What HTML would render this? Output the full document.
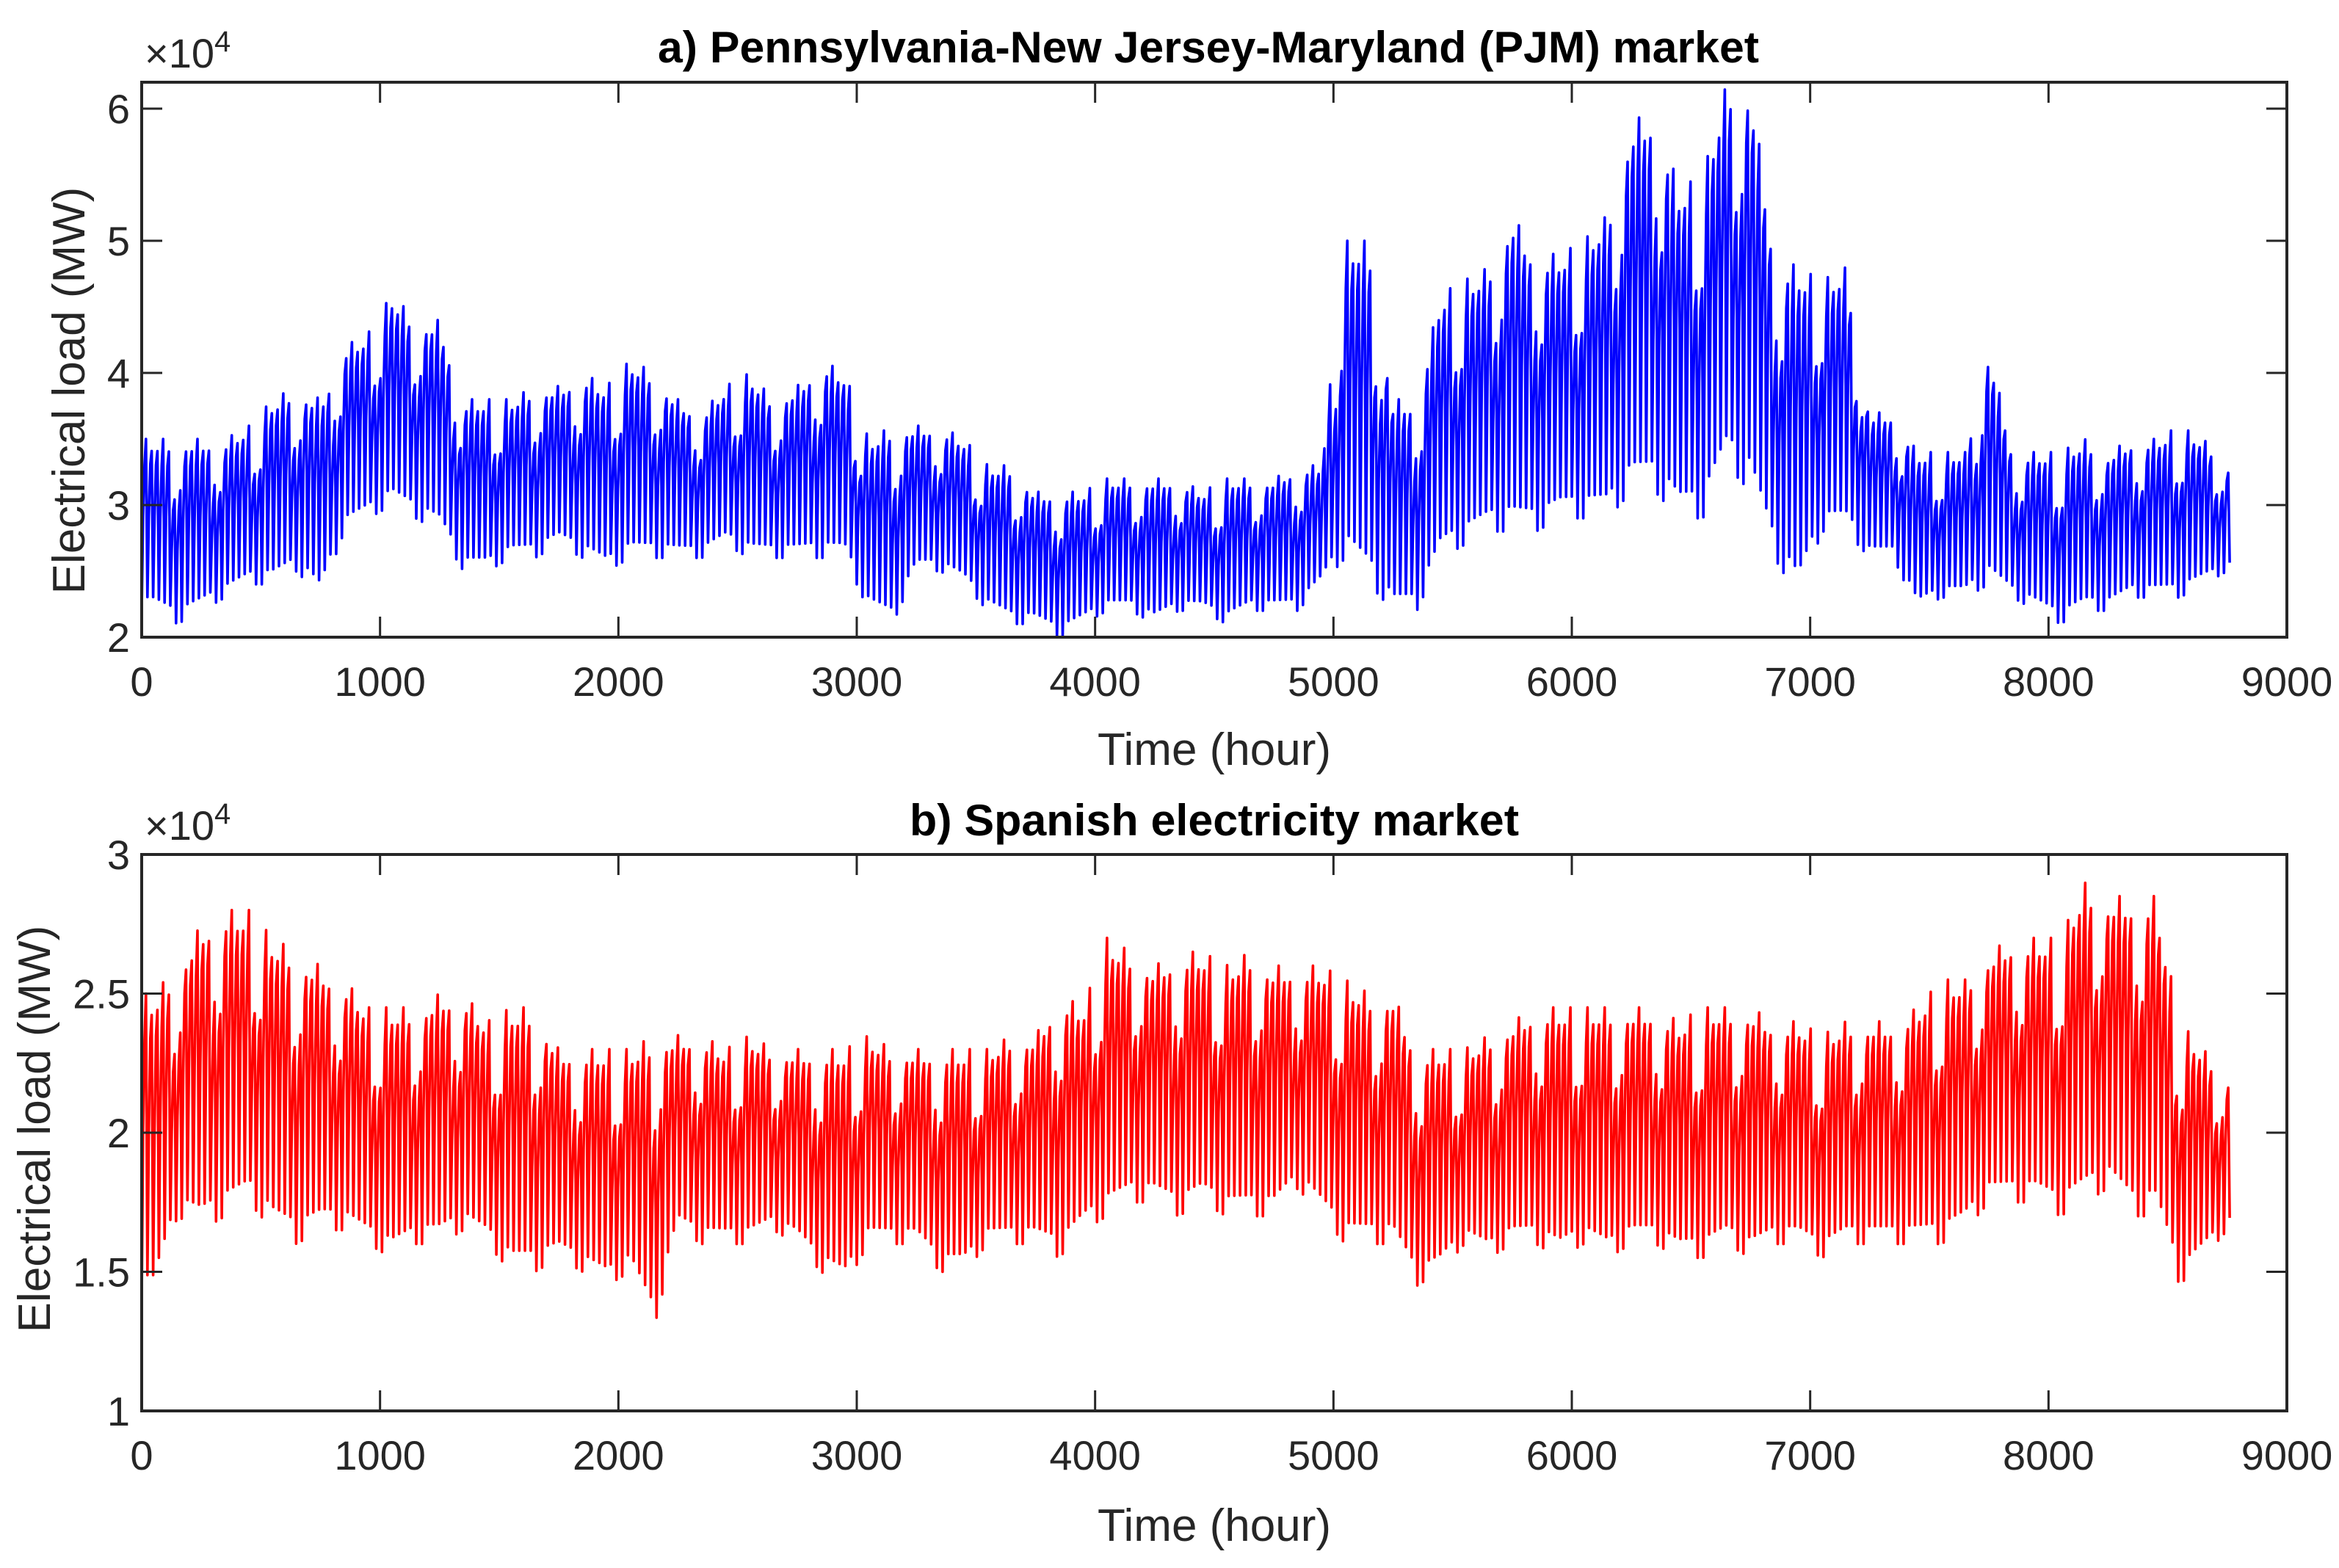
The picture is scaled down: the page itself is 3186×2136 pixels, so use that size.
<!DOCTYPE html>
<html><head><meta charset="utf-8"><style>
html,body{margin:0;padding:0;background:#fff;}
svg{display:block;font-family:"Liberation Sans",Arial,sans-serif;}
</style></head><body>
<svg id="fig" width="3186" height="2136" viewBox="0 0 3186 2136" xmlns="http://www.w3.org/2000/svg">
<rect width="3186" height="2136" fill="#fff"/>
<g id="layer"></g>
</svg>
<script>
// PJM: per 100-hour bin high / low (x1e4 MW)
const pjmHigh = [3.5,3.5,3.5,3.5,3.6,3.8,3.9,3.8,4.2,4.3,4.6,4.4,4.4,3.8,3.8,3.8,3.9,3.9,4.0,3.9,4.1,4.0,3.8,3.7,3.9,4.0,3.8,3.9,4.1,4.0,3.5,3.6,3.6,3.6,3.5,3.3,3.3,3.1,3.1,3.1,3.2,3.2,3.2,3.2,3.1,3.2,3.2,3.2,3.3,3.3,5.0,5.0,3.8,3.8,4.6,4.7,4.8,5.2,4.9,4.9,5.0,5.2,5.9,6.0,5.4,5.5,6.2,6.2,4.9,4.8,4.7,4.8,3.7,3.7,3.4,3.4,3.4,4.2,3.4,3.4,3.4,3.5,3.4,3.5,3.5,3.6,3.5,3.3];
const pjmLow = [2.2,2.1,2.2,2.3,2.4,2.4,2.5,2.3,2.8,2.9,3.0,2.9,2.8,2.5,2.5,2.6,2.6,2.7,2.6,2.5,2.6,2.6,2.6,2.6,2.7,2.6,2.6,2.6,2.6,2.6,2.2,2.1,2.5,2.5,2.4,2.2,2.1,2.1,2.0,2.1,2.2,2.2,2.1,2.2,2.2,2.1,2.2,2.2,2.2,2.4,2.6,2.4,2.2,2.2,2.6,2.7,2.8,2.8,2.8,2.9,2.9,2.9,3.1,3.1,2.9,2.9,3.3,3.1,2.6,2.3,2.8,2.8,2.6,2.6,2.2,2.3,2.3,2.4,2.3,2.2,2.1,2.2,2.2,2.3,2.3,2.3,2.4,2.5];
// Spain: per 100-hour bin high / low (x1e4 MW)
const spHigh = [2.5,2.6,2.75,2.8,2.8,2.7,2.65,2.6,2.55,2.45,2.45,2.45,2.5,2.5,2.4,2.45,2.45,2.3,2.3,2.3,2.3,2.35,2.35,2.35,2.3,2.35,2.3,2.3,2.3,2.3,2.35,2.3,2.3,2.3,2.3,2.3,2.35,2.35,2.5,2.45,2.7,2.65,2.6,2.65,2.65,2.6,2.65,2.6,2.6,2.6,2.55,2.5,2.5,2.3,2.3,2.3,2.35,2.4,2.45,2.45,2.45,2.45,2.45,2.45,2.4,2.45,2.45,2.45,2.4,2.4,2.35,2.4,2.4,2.4,2.45,2.55,2.55,2.65,2.7,2.7,2.7,2.9,2.85,2.85,2.85,2.4,2.3,2.2];
const spLow = [1.4,1.7,1.65,1.7,1.75,1.65,1.6,1.65,1.65,1.6,1.55,1.6,1.6,1.65,1.6,1.5,1.5,1.55,1.5,1.45,1.5,1.3,1.65,1.6,1.6,1.6,1.65,1.6,1.5,1.45,1.6,1.6,1.6,1.5,1.5,1.6,1.6,1.6,1.55,1.65,1.7,1.75,1.75,1.7,1.75,1.7,1.7,1.7,1.8,1.7,1.6,1.6,1.6,1.45,1.5,1.6,1.55,1.6,1.6,1.55,1.6,1.55,1.6,1.6,1.55,1.55,1.6,1.55,1.6,1.6,1.55,1.6,1.6,1.6,1.6,1.6,1.65,1.75,1.75,1.75,1.7,1.75,1.8,1.7,1.7,1.45,1.55,1.65];
const xTicks = [0,1000,2000,3000,4000,5000,6000,7000,8000,9000];
const pjmTicks = [2,3,4,5,6];
const spTicks = [1,1.5,2,2.5,3];
const spTickLabels = ["1","1.5","2","2.5","3"];
const NH = 8760;

const NS = "http://www.w3.org/2000/svg";
const layer = document.getElementById('layer');
function mk(tag, attrs, parent){const e=document.createElementNS(NS,tag);for(const k in attrs)e.setAttribute(k,attrs[k]);(parent||layer).appendChild(e);return e;}
function binVal(arr,h){
  const p=h/100-0.5;
  const i=Math.max(0,Math.min(arr.length-1,Math.floor(p)));
  const j=Math.min(arr.length-1,i+1);
  const f=Math.max(0,Math.min(1,p-i));
  return arr[i]*(1-f)+arr[j]*f;
}

function panel(o){
  const L=193,R=3115,T=o.T,B=o.B;
  const xs=v=>L+(v-0)/9000*(R-L);
  const ys=v=>B-(v-o.ymin)/(o.ymax-o.ymin)*(B-T);
  const g=mk('g',{});
  
  
  let pts=[];
  for(let h=0;h<=NH;h+=6){
    const hi=binVal(o.hi,h), lo=binVal(o.lo,h);
    const day=Math.floor(h/24), ph=(h%24)/6;
    const wk=(day%7>=5)?0.72:1;
    const lowAdj=(day%7===6||day%7===0)?0:(hi-lo)*0.08;
    let v;
    if(ph===0) v=lo+lowAdj;
    else if(ph===1) v=lo+(hi-lo)*0.55*wk;
    else if(ph===2) v=lo+(hi-lo)*0.85*wk;
    else v=lo+(hi-lo)*(day%3===0?1:0.93)*wk;
    pts.push(xs(h).toFixed(1)+','+ys(v).toFixed(1));
  }
  const pl=mk('polyline',{points:pts.join(' '),fill:'none',stroke:o.color,'stroke-width':3.6,'stroke-linejoin':'round'},g);
  
  
  const box=mk('rect',{x:L,y:T,width:R-L,height:B-T,fill:'none',stroke:'#262626','stroke-width':4},g);
  
  
  xTicks.forEach(t=>{
    const x=xs(t);
    mk('line',{x1:x,y1:B,x2:x,y2:B-28,stroke:'#262626','stroke-width':3},g);
    mk('line',{x1:x,y1:T,x2:x,y2:T+28,stroke:'#262626','stroke-width':3},g);
    const tx=mk('text',{x:x,y:B+80,'font-size':56,'text-anchor':'middle',fill:'#262626'},g);
    tx.textContent=t;
    
    
  });
  o.ticks.forEach((t,i)=>{
    const y=ys(t);
    mk('line',{x1:L,y1:y,x2:L+28,y2:y,stroke:'#262626','stroke-width':3},g);
    mk('line',{x1:R,y1:y,x2:R-28,y2:y,stroke:'#262626','stroke-width':3},g);
    const tx=mk('text',{x:L-16,y:y+20,'font-size':56,'text-anchor':'end',fill:'#262626'},g);
    tx.textContent=o.labels[i];
    
    
  });
  const xl=mk('text',{x:(L+R)/2,y:o.xlY,'font-size':62,'text-anchor':'middle',fill:'#262626'},g);
  xl.textContent='Time (hour)';
  
  
  const yl=mk('text',{x:0,y:0,'font-size':62,'text-anchor':'middle',fill:'#262626',transform:`translate(${o.ylX},${o.ylY}) rotate(-90)`},g);
  yl.textContent='Electrical load (MW)';
  
  
  const ex=mk('text',{x:197,y:o.T-20,'font-size':56,fill:'#262626'},g);
  ex.innerHTML='×10<tspan dy="-22" font-size="40">4</tspan>';
  
  
  const ti=mk('text',{x:o.tX,y:o.tY,'font-size':60,'font-weight':'bold','text-anchor':'middle',fill:'#000',textLength:o.tLen,lengthAdjust:'spacingAndGlyphs'},g);
  ti.textContent=o.title;
  
  
}
panel({name:'pjm',T:112,B:868,ymin:2,ymax:6.2,hi:pjmHigh,lo:pjmLow,color:'#0000ff',ticks:pjmTicks,labels:pjmTicks.map(String),xlY:1042,ylX:115,ylY:532,tX:1646,tY:85,tLen:1500,title:'a) Pennsylvania-New Jersey-Maryland (PJM) market'});
panel({name:'spain',T:1164,B:1922,ymin:1,ymax:3,hi:spHigh,lo:spLow,color:'#ff0000',ticks:spTicks,labels:spTickLabels,xlY:2099,ylX:68,ylY:1538,tX:1654,tY:1138,tLen:830,title:'b) Spanish electricity market'});
</script>
</body></html>
